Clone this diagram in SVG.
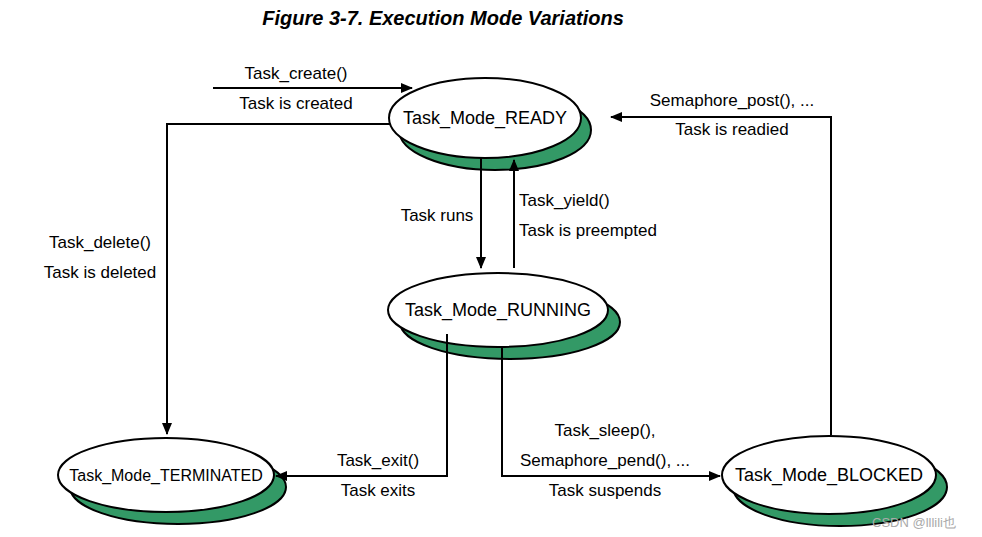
<svg xmlns="http://www.w3.org/2000/svg" width="982" height="537" viewBox="0 0 982 537">
<defs>
<marker id="ah" markerWidth="12" markerHeight="10" refX="11" refY="5" orient="auto" markerUnits="userSpaceOnUse"><path d="M0,0 L12,5 L0,10 Z" fill="#000"/></marker>
<style>
.sh{fill:#339966;stroke:#000;stroke-width:2}
.el{fill:#fff;stroke:#000;stroke-width:2}
.c{fill:none;stroke:#000;stroke-width:2;marker-end:url(#ah)}
text{font-family:"Liberation Sans",Arial,sans-serif;font-size:17px;fill:#000}
.n{text-anchor:middle;font-size:18px}
</style>
</defs>
<rect width="982" height="537" fill="#fff"/>
<text x="443" y="25" text-anchor="middle" style="font-weight:bold;font-style:italic;font-size:20px">Figure 3-7.  Execution Mode Variations</text>
<g id="ready"><ellipse class="sh" cx="495" cy="130" rx="96" ry="40"/><ellipse class="el" cx="485" cy="118" rx="96" ry="40"/><text class="n" x="485" y="124">Task_Mode_READY</text></g>
<g id="running"><ellipse class="sh" cx="510" cy="322" rx="110" ry="37"/><ellipse class="el" cx="498" cy="310" rx="110" ry="37"/><text class="n" x="498" y="316">Task_Mode_RUNNING</text></g>
<g id="terminated"><ellipse class="sh" cx="178" cy="487" rx="108" ry="37"/><ellipse class="el" cx="166" cy="475" rx="108" ry="37"/><text class="n" x="166" y="481" style="font-size:16px">Task_Mode_TERMINATED</text></g>
<g id="blocked"><ellipse class="sh" cx="840" cy="487" rx="107" ry="39"/><ellipse class="el" cx="829" cy="475" rx="107" ry="39"/><text class="n" x="829" y="481">Task_Mode_BLOCKED</text></g>
<g id="connectors">
<path class="c" d="M213,88 H412"/>
<path class="c" d="M390,124 H167 V434"/>
<path class="c" d="M481,157 V268"/>
<path class="c" d="M514,268 V160"/>
<path class="c" d="M447,334 V476 H276"/>
<path class="c" d="M502,346 V476 H720"/>
<path class="c" d="M831,435 V117 H611"/>
</g>
<g id="labels">
<text x="296" y="79" text-anchor="middle">Task_create()</text>
<text x="296" y="109" text-anchor="middle">Task is created</text>
<text x="100" y="248" text-anchor="middle">Task_delete()</text>
<text x="100" y="278" text-anchor="middle">Task is deleted</text>
<text x="437" y="221" text-anchor="middle">Task runs</text>
<text x="519" y="206">Task_yield()</text>
<text x="519" y="236">Task is preempted</text>
<text x="732" y="106" text-anchor="middle">Semaphore_post(), ...</text>
<text x="732" y="135" text-anchor="middle">Task is readied</text>
<text x="378" y="466" text-anchor="middle">Task_exit()</text>
<text x="378" y="496" text-anchor="middle">Task exits</text>
<text x="605" y="436" text-anchor="middle">Task_sleep(),</text>
<text x="605" y="466" text-anchor="middle">Semaphore_pend(), ...</text>
<text x="605" y="496" text-anchor="middle">Task suspends</text>
<text x="872" y="527" style="font-size:13px;fill:#aaa">CSDN @lllili也</text>
</g>
</svg>
